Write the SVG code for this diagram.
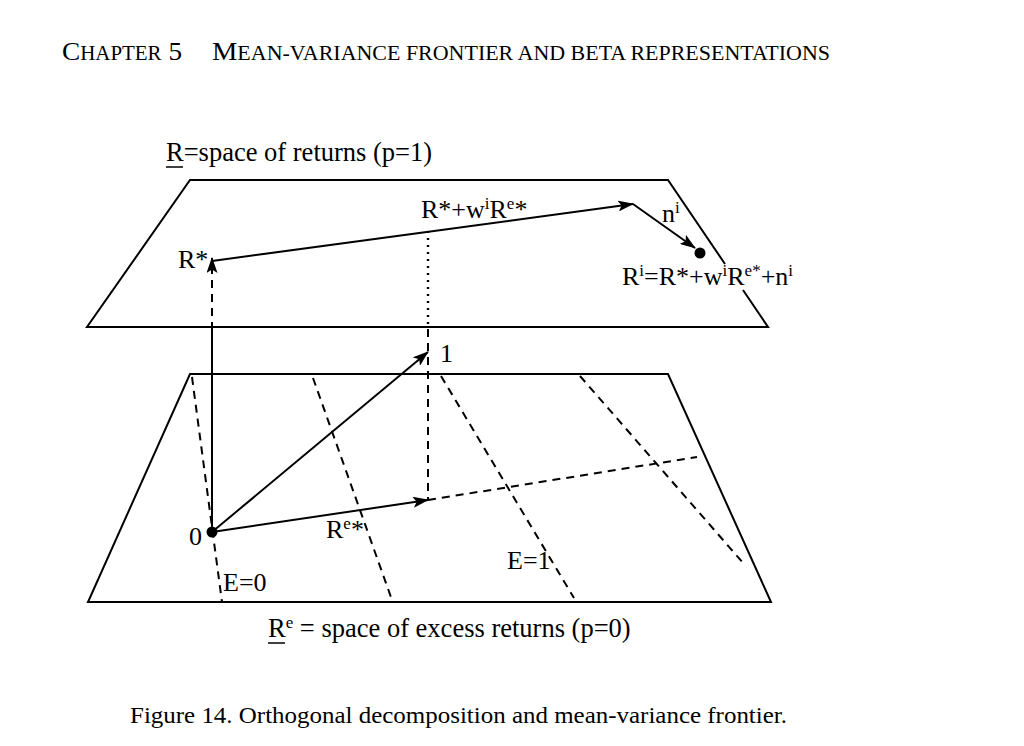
<svg xmlns="http://www.w3.org/2000/svg" width="1024" height="746" viewBox="0 0 1024 746">
<style>
text{font-family:"Liberation Serif","Times New Roman",serif;fill:#000}
.lbl{font-size:26px}
.ttl{font-size:26.5px}
.sup{font-size:17px}
.ln{stroke:#000;stroke-width:2;fill:none}
.ds{stroke:#000;stroke-width:2;fill:none;stroke-dasharray:8 6}
.dt{stroke:#000;stroke-width:2.4;fill:none;stroke-dasharray:2 5}
</style>
<defs>
<marker id="ah" viewBox="0 0 16 11" refX="15" refY="5.5" markerWidth="16" markerHeight="11" markerUnits="userSpaceOnUse" orient="auto">
<path d="M0,0 L16,5.5 L0,11 L3.5,5.5 z" fill="#000"/>
</marker>
</defs>
<rect width="1024" height="746" fill="#fff"/>
<g id="header">
<text x="62" y="60" font-size="26" textLength="120" lengthAdjust="spacingAndGlyphs">C<tspan font-size="20">HAPTER</tspan> 5</text>
<text x="212" y="60" font-size="26" textLength="618" lengthAdjust="spacingAndGlyphs">M<tspan font-size="20">EAN-VARIANCE FRONTIER AND BETA REPRESENTATIONS</tspan></text>
</g>
<g id="upper-plane">
<path class="ln" d="M725,264 L668,180 L190,180 L87,327 L768,327 L743,290"/>
<text class="ttl" x="166" y="161">R=space of returns (p=1)</text>
<line x1="166" y1="167" x2="183" y2="167" stroke="#000" stroke-width="1.5"/>
</g>
<g id="lower-plane">
<path class="ln" d="M190,374 L668,374 L771,602 L88,602 Z"/>
<text class="ttl" x="268" y="637">R<tspan class="sup" dy="-9">e</tspan><tspan dy="9"> = space of excess returns (p=0)</tspan></text>
<line x1="268" y1="643" x2="285" y2="643" stroke="#000" stroke-width="1.5"/>
</g>
<g id="connectors">
<line class="ds" x1="192" y1="377" x2="222" y2="602"/>
<line class="ds" x1="313" y1="378" x2="392" y2="600"/>
<line class="ds" x1="441" y1="376" x2="574" y2="598"/>
<line class="ds" x1="580" y1="376" x2="744" y2="564"/>
<line class="ds" x1="428" y1="500" x2="697" y2="457"/>
<line class="dt" x1="428" y1="231" x2="428" y2="326"/>
<line class="ds" x1="428" y1="329" x2="428" y2="500"/>
<line class="ln" x1="212" y1="532" x2="212" y2="330"/>
<line class="ds" x1="212" y1="330" x2="212" y2="258" marker-end="url(#ah)"/>
<line class="ln" x1="212" y1="261" x2="633" y2="204" marker-end="url(#ah)"/>
<line class="ln" x1="633" y1="204" x2="695" y2="248" marker-end="url(#ah)"/>
<line class="ln" x1="212" y1="532" x2="428" y2="352" marker-end="url(#ah)"/>
<line class="ln" x1="212" y1="532" x2="428" y2="500" marker-end="url(#ah)"/>
</g>
<g id="point-0">
<circle cx="212" cy="532" r="5.5"/>
<text class="lbl" x="189" y="545">0</text>
</g>
<g id="point-Ri">
<circle cx="700" cy="253" r="5.5"/>
<text class="lbl" x="622" y="285">R<tspan class="sup" dy="-9">i</tspan><tspan dy="9">=R*+w</tspan><tspan class="sup" dy="-9">i</tspan><tspan dy="9">R</tspan><tspan class="sup" dy="-9">e*</tspan><tspan dy="9">+n</tspan><tspan class="sup" dy="-9">i</tspan></text>
</g>
<g id="labels">
<text class="lbl" x="178" y="268">R*</text>
<text class="lbl" x="421" y="218">R*+w<tspan class="sup" dy="-9">i</tspan><tspan dy="9">R</tspan><tspan class="sup" dy="-9">e</tspan><tspan dy="9">*</tspan></text>
<text class="lbl" x="662" y="222">n<tspan class="sup" dy="-9">i</tspan></text>
<text class="lbl" x="440" y="362">1</text>
<text class="lbl" x="326" y="538">R<tspan class="sup" dy="-9">e</tspan><tspan dy="9">*</tspan></text>
<text class="lbl" x="223" y="591">E=0</text>
<text class="lbl" x="507" y="569">E=1</text>
</g>
<g id="caption">
<text x="130" y="723" font-size="24" textLength="657" lengthAdjust="spacingAndGlyphs">Figure 14. Orthogonal decomposition and mean-variance frontier.</text>
</g>
</svg>
